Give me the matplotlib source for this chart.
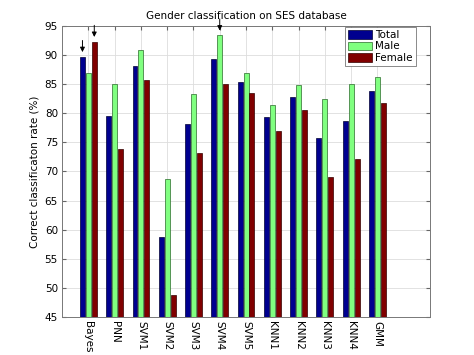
import numpy as np
import matplotlib
matplotlib.use("Agg")
import matplotlib.pyplot as plt

classifiers = ["Bayes", "PNN", "SVM1", "SVM2", "SVM3", "SVM4", "SVM5",
               "KNN1", "KNN2", "KNN3", "KNN4", "GMM"]
total = [89.7, 79.5, 88.2, 58.7, 78.2, 89.3, 85.3, 79.3, 82.8, 75.7, 78.6, 83.9]
male = [86.9, 85.1, 90.8, 68.7, 83.3, 93.4, 86.9, 81.5, 84.9, 82.4, 85.0, 86.2]
female = [92.3, 73.8, 85.7, 48.7, 73.2, 85.1, 83.4, 76.9, 80.6, 69.0, 72.1, 81.8]

fig = plt.figure(figsize=(4.74, 3.55), dpi=100)
ax = fig.add_axes([0.131, 0.107, 0.776, 0.820])

x = np.arange(1, len(classifiers) + 1)
w = 0.19
off = 0.225
ax.bar(x - off, total, w, color="#00008F", edgecolor="#000033",
       linewidth=0.5, label="Total", zorder=3)
ax.bar(x, male, w, color="#80FF80", edgecolor="#2a6a2a",
       linewidth=0.5, label="Male", zorder=3)
ax.bar(x + off, female, w, color="#800000", edgecolor="#330000",
       linewidth=0.5, label="Female", zorder=3)

# arrows marking the best results
for xi, top in [(1 - off, total[0]), (1 + off, female[0]), (6, male[5])]:
    ax.annotate("", xy=(xi, top + 0.8), xytext=(xi, top + 2.8),
                arrowprops=dict(arrowstyle="-|>", color="black", lw=0.7,
                                mutation_scale=7, shrinkA=0, shrinkB=0),
                annotation_clip=False, zorder=5)

ax.set_xlim(0, 14)
ax.set_ylim(45, 95)
ax.set_yticks(np.arange(45, 96, 5))
ax.set_xticks(x)
ax.set_xticklabels(classifiers, rotation=-90, fontsize=7.5)
ax.tick_params(axis="y", labelsize=7.5)
ax.tick_params(direction="in", length=3, top=True, right=True,
               color="#666666", pad=3)
ax.grid(True, color="#dddddd", linewidth=0.6, zorder=0)
for s in ax.spines.values():
    s.set_color("#777777")
    s.set_linewidth(0.7)

ax.set_ylabel("Correct classificaton rate (%)", fontsize=7.5)
ax.set_title("Gender classification on SES database", fontsize=7.5, pad=5)

leg = ax.legend(loc="upper right", bbox_to_anchor=(0.975, 1.015), fontsize=7.5,
                fancybox=False, edgecolor="#777777", framealpha=1,
                handlelength=2.3, handleheight=0.9, borderpad=0.3,
                labelspacing=0.15, handletextpad=0.3)
leg.get_frame().set_linewidth(0.6)

fig.savefig("out.png", dpi=100)
